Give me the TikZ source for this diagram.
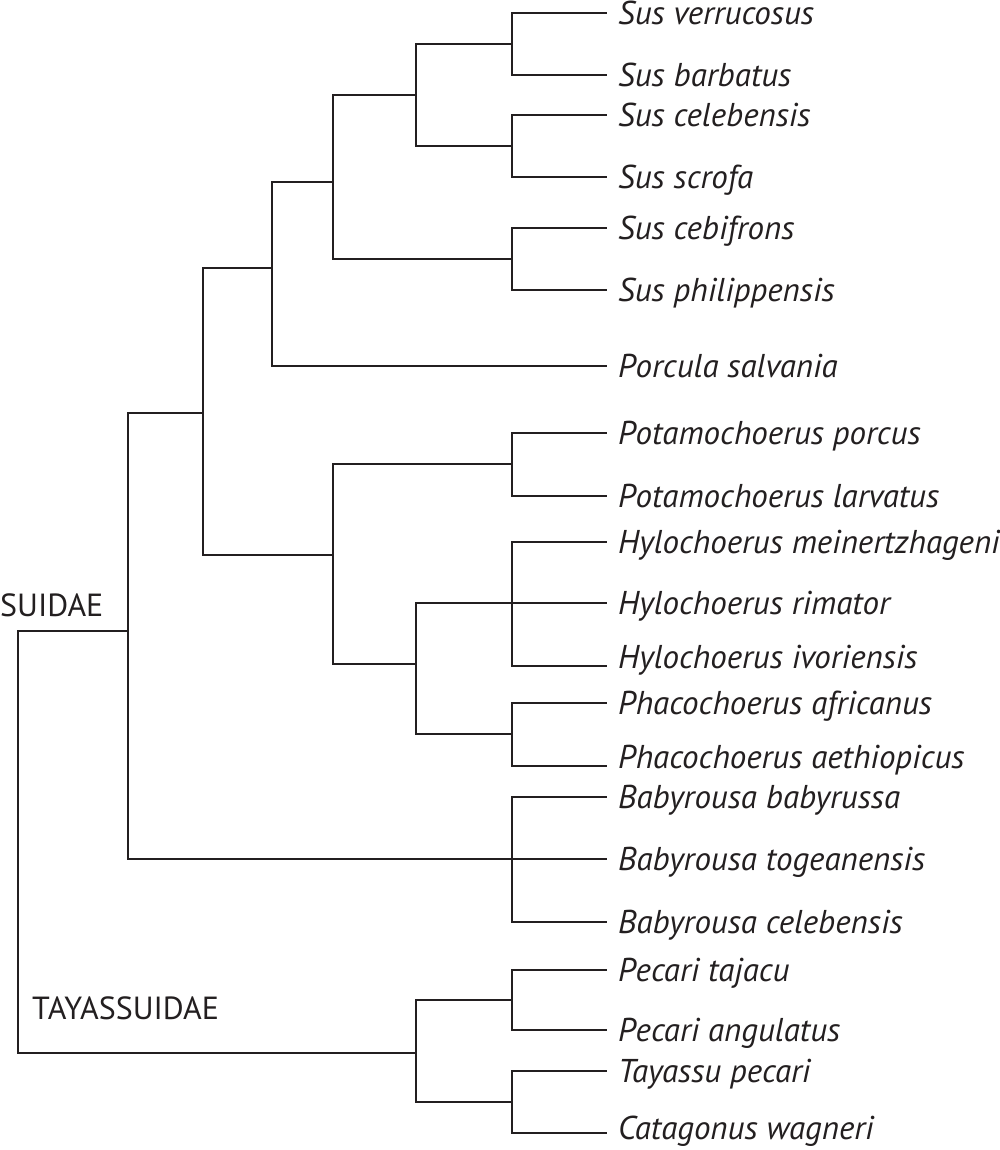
\documentclass[tikz,border=0pt]{standalone}
\usepackage{fontspec}
\setmainfont{PT Sans}
\definecolor{ink}{HTML}{231F20}
\newcommand{\uplabel}[2][9pt]{\raisebox{#1}{#2}}
\begin{document}
\begin{tikzpicture}[x=1pt,y=-1pt,
  branch/.style={draw=ink,line width=2pt,line cap=rect},
  leaf/.style={anchor=west,inner xsep=12pt,inner ysep=0pt,text height=23pt,text depth=0pt,font=\fontsize{33}{33}\selectfont\itshape,text=ink},
  family/.style={anchor=base west,inner sep=0pt,font=\fontsize{32}{32}\selectfont,text=ink}]
\useasboundingbox (0,0) rectangle (1000,1150);
% leaves
\node[leaf] (verr) at (606,13) {Sus verrucosus};
\node[leaf] (barb) at (606,75) {Sus barbatus};
\node[leaf] (cele) at (606,115) {Sus celebensis};
\node[leaf] (scro) at (606,177) {Sus scrofa};
\node[leaf] (cebi) at (606,228) {Sus cebifrons};
\node[leaf] (phil) at (606,290) {Sus philippensis};
\node[leaf] (porc) at (606,366) {Porcula salvania};
\node[leaf] (ppor) at (606,433) {Potamochoerus porcus};
\node[leaf] (plar) at (606,496) {Potamochoerus larvatus};
\node[leaf] (hmei) at (606,542) {Hylochoerus meinertzhageni};
\node[leaf] (hrim) at (606,603) {Hylochoerus rimator};
\node[leaf] (hivo) at (606,666) {\uplabel{Hylochoerus ivoriensis}};
\node[leaf] (pafr) at (606,703) {Phacochoerus africanus};
\node[leaf] (paet) at (606,766) {\uplabel{Phacochoerus aethiopicus}};
\node[leaf] (bbab) at (606,797) {Babyrousa babyrussa};
\node[leaf] (btog) at (606,859) {Babyrousa togeanensis};
\node[leaf] (bcel) at (606,922) {Babyrousa celebensis};
\node[leaf] (ptaj) at (606,970) {Pecari tajacu};
\node[leaf] (pang) at (606,1030) {Pecari angulatus};
\node[leaf] (tpec) at (606,1071) {Tayassu pecari};
\node[leaf] (cwag) at (606,1133) {\uplabel[5pt]{Catagonus wagneri}};
% family labels
\node[family] (suidae) at (0,616) {SUIDAE};
\node[family] (tayas) at (32,1019) {TAYASSUIDAE};
% internal nodes
\coordinate (nA) at (512,44);
\coordinate (nB) at (512,146);
\coordinate (nC) at (416,95);
\coordinate (nD) at (512,259);
\coordinate (nE) at (333,182);
\coordinate (nF) at (272,268);
\coordinate (nG) at (512,464);
\coordinate (nH) at (512,603);
\coordinate (nI) at (512,734);
\coordinate (nJ) at (416,664);
\coordinate (nK) at (333,555);
\coordinate (nL) at (203,413);
\coordinate (nM) at (512,859);
\coordinate (nN) at (128,631);
\coordinate (nO) at (512,1000);
\coordinate (nP) at (512,1102);
\coordinate (nQ) at (416,1053);
\coordinate (root) at (18,842);
% connectors
\draw[branch] (nA) |- (verr.west) (nA) |- (barb.west);
\draw[branch] (nB) |- (cele.west) (nB) |- (scro.west);
\draw[branch] (nC) |- (nA) (nC) |- (nB);
\draw[branch] (nD) |- (cebi.west) (nD) |- (phil.west);
\draw[branch] (nE) |- (nC) (nE) |- (nD);
\draw[branch] (nF) |- (nE) (nF) |- (porc.west);
\draw[branch] (nG) |- (ppor.west) (nG) |- (plar.west);
\draw[branch] (nH) |- (hmei.west) (nH) -- (hrim.west) (nH) |- (hivo.west);
\draw[branch] (nI) |- (pafr.west) (nI) |- (paet.west);
\draw[branch] (nJ) |- (nH) (nJ) |- (nI);
\draw[branch] (nK) |- (nG) (nK) |- (nJ);
\draw[branch] (nL) |- (nF) (nL) |- (nK);
\draw[branch] (nM) |- (bbab.west) (nM) -- (btog.west) (nM) |- (bcel.west);
\draw[branch] (nN) |- (nL) (nN) |- (nM);
\draw[branch] (nO) |- (ptaj.west) (nO) |- (pang.west);
\draw[branch] (nP) |- (tpec.west) (nP) |- (cwag.west);
\draw[branch] (nQ) |- (nO) (nQ) |- (nP);
\draw[branch] (root) |- (nN) (root) |- (nQ);
\end{tikzpicture}
\end{document}
